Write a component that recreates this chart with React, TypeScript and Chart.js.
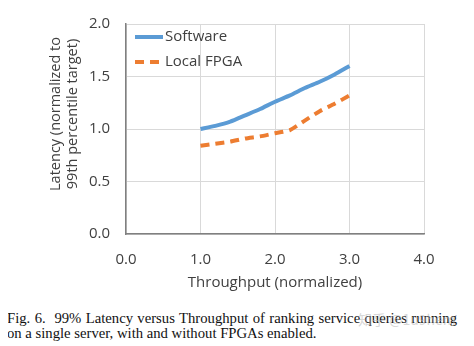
import React, { useEffect, useRef } from "react";
import { Chart, registerables } from "chart.js";

Chart.register(...registerables);

const throughput = [1.0, 1.2, 1.4, 1.6, 1.8, 2.0, 2.2, 2.4, 2.6, 2.8, 3.0];
const softwareLatency = [1.0, 1.03, 1.07, 1.13, 1.19, 1.26, 1.32, 1.39, 1.45, 1.52, 1.6];
const fpgaLatency = [0.84, 0.86, 0.88, 0.91, 0.93, 0.96, 0.99, 1.08, 1.17, 1.24, 1.32];
const seriesNames = ["Software", "Local FPGA"];
const yTitle = ["Latency (normalized to", "99th percentile target)"];
const xTitle = "Throughput (normalized)";
const caption =
  "Fig. 6.  99% Latency versus Throughput of ranking service queries running on a single server, with and without FPGAs enabled.";

const FONT = "'Open Sans', sans-serif";
const TEXT = "#404040";

const legendPlugin = {
  id: "innerLegend",
  afterDraw(chart: any) {
    const { ctx, chartArea } = chart;
    ctx.save();
    chart.data.datasets.forEach((ds: any, i: number) => {
      const y = chartArea.top + 13 + i * 25;
      const x0 = chartArea.left + 9;
      ctx.beginPath();
      ctx.strokeStyle = ds.borderColor;
      ctx.lineWidth = ds.borderWidth;
      ctx.setLineDash(ds.borderDash || []);
      ctx.moveTo(x0, y);
      ctx.lineTo(x0 + 28, y);
      ctx.stroke();
      ctx.setLineDash([]);
      ctx.fillStyle = TEXT;
      ctx.font = `15px ${FONT}`;
      ctx.textBaseline = "middle";
      ctx.textAlign = "left";
      ctx.fillText(ds.label, x0 + 30, y);
    });
    // y axis title, two lines, rotated
    ctx.translate(chartArea.left - 70, chartArea.top + 90);
    ctx.rotate(-Math.PI / 2);
    ctx.font = `14.5px ${FONT}`;
    ctx.fillStyle = TEXT;
    ctx.textAlign = "center";
    ctx.textBaseline = "middle";
    yTitle.forEach((line, i) => ctx.fillText(line, 0, i * 17));
    ctx.restore();
  },
};

export default function App() {
  const ref = useRef<HTMLCanvasElement>(null);
  useEffect(() => {
    if (!ref.current) return;
    const chart = new Chart(ref.current, {
      type: "line",
      data: {
        datasets: [
          {
            label: seriesNames[0],
            data: throughput.map((x, i) => ({ x, y: softwareLatency[i] })),
            borderColor: "#5b9bd5",
            borderWidth: 4,
            pointRadius: 0,
            tension: 0.2,
          },
          {
            label: seriesNames[1],
            data: throughput.map((x, i) => ({ x, y: fpgaLatency[i] })),
            borderColor: "#ed7d31",
            borderWidth: 4,
            borderDash: [9, 6],
            pointRadius: 0,
            tension: 0.2,
          },
        ],
      },
      options: {
        responsive: false,
        animation: false,
        layout: { padding: { top: 16, right: 42, left: 0, bottom: 0 } },
        plugins: { legend: { display: false }, tooltip: { enabled: false } },
        scales: {
          x: {
            type: "linear",
            min: 0,
            max: 4,
            ticks: {
              stepSize: 1,
              color: TEXT,
              font: { family: FONT, size: 15 },
              padding: 17,
              callback: (v: any) => Number(v).toFixed(1),
            },
            grid: { color: "#d9d9d9", drawTicks: false },
            border: { color: "#808080", width: 1.5 },
            title: {
              display: true,
              text: xTitle,
              color: TEXT,
              font: { family: FONT, size: 15 },
              padding: { top: 9, bottom: 0 },
            },
            afterFit: (s: any) => {
              s.height = 58;
              s.paddingLeft = 0;
              s.paddingRight = 0;
            },
          },
          y: {
            min: 0,
            max: 2,
            ticks: {
              stepSize: 0.5,
              color: TEXT,
              font: { family: FONT, size: 15 },
              padding: 16,
              callback: (v: any) => Number(v).toFixed(1),
            },
            grid: { color: "#d9d9d9", drawTicks: false },
            border: { color: "#808080", width: 1.5 },
            afterFit: (s: any) => {
              s.width = 118;
              s.paddingTop = 0;
              s.paddingBottom = 0;
            },
          },
        },
      },
      plugins: [legendPlugin],
    });
    return () => chart.destroy();
  }, []);
  return (
    <div style={{ width: 458, position: "relative" }}>
      <canvas ref={ref} width={458} height={284} style={{ display: "block" }} />
      <div
        style={{
          marginTop: 19,
          marginLeft: -1,
          width: 450,
          fontFamily: "'Liberation Serif', 'Times New Roman', serif",
          fontSize: 14.7,
          lineHeight: "15px",
          textAlign: "justify",
          whiteSpace: "pre-wrap",
          color: "#111",
        }}
      >
        {caption}
      </div>
      <div
        style={{
          position: "absolute",
          left: 350,
          top: 301,
          fontFamily: "'Noto Sans CJK SC', sans-serif",
          fontSize: 14,
          color: "rgba(180,180,180,0.55)",
          pointerEvents: "none",
        }}
      >
        知乎 @1u9hem
      </div>
    </div>
  );
}
